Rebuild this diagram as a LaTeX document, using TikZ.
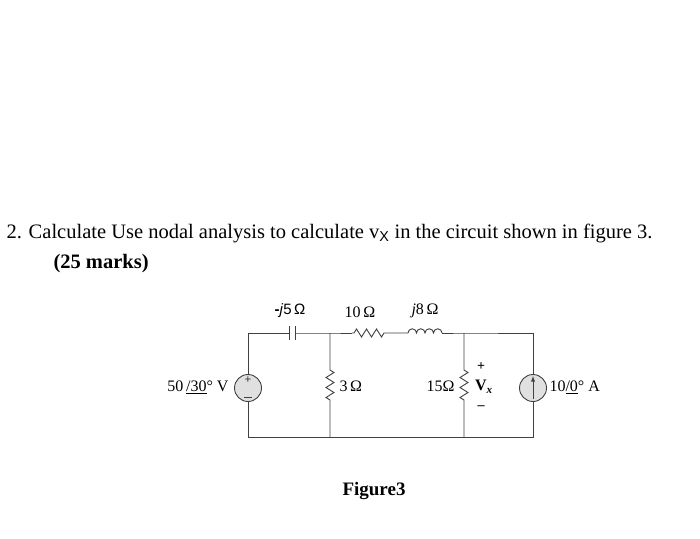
\documentclass[tikz,border=0pt]{standalone}
\usepackage{fontspec}
\setmainfont{Liberation Serif}
\newfontfamily\lsans{Liberation Sans}
\tikzset{wire/.style={line width=0.9pt,black!75},
 lbl/.style={font=\fontsize{16}{18}\selectfont},
 slbl/.style={font=\lsans\fontsize{15}{17}\selectfont},
 src/.style={circle,draw=black!75,fill=black!12,line width=0.9pt,minimum size=27pt,inner sep=0pt}}
\begin{document}
\begin{tikzpicture}[x=1pt,y=-1pt]
\useasboundingbox (0,0) rectangle (700,538);
\node[anchor=west,font=\fontsize{20.5}{24}\selectfont] (title) at (3,233) {2. Calculate Use nodal analysis to calculate v\textsubscript{\lsans X} in the circuit shown in figure 3.};
\node[anchor=west,font=\bfseries\fontsize{20.5}{24}\selectfont] (marks) at (50,264) {(25 marks)};
\node[font=\bfseries\fontsize{19}{22}\selectfont] (fig) at (374,491) {Figure3};
\coordinate (TL) at (248,333); \coordinate (BL) at (248,437);
\coordinate (TA) at (330,333); \coordinate (BA) at (330,437);
\coordinate (TB) at (464,333); \coordinate (BB) at (464,437);
\coordinate (TR) at (533,333); \coordinate (BR) at (533,437);
\node[src] (vs) at (248,388) {};
\node[src] (is) at (533,388) {};
\node[font=\fontsize{12}{12}\selectfont] (vp) at (248,380) {+};
\draw[wire] (244,397) -- (252,397);
\draw[wire,-latex] (533,399) -- (533,376);
\draw[wire] (vs) -- (TL) -- (289,333);
\draw[wire] (295,333) -- (TA) -- (352,333);
\draw[wire] (289,326) -- (289,340) (295,326) -- (295,340);
\draw[wire] (352,333) -- (354,333) -- ++(2.5,-4) -- ++(5,8) -- ++(5,-8) -- ++(5,8) -- ++(5,-8) -- ++(5,8) -- ++(2.5,-4) -- (408,333);
\draw[wire] (408,333) arc(180:360:4.25) arc(180:360:4.25) arc(180:360:4.25) arc(180:360:4.25);
\draw[wire] (442,333) -- (TB) -- (TR) -- (is) -- (BR) -- (BL) -- (vs);
\draw[wire] (TA) -- (330,370) -- ++(4,2.5) -- ++(-8,5) -- ++(8,5) -- ++(-8,5) -- ++(8,5) -- ++(-8,5) -- ++(4,2.5) -- (BA);
\draw[wire] (TB) -- (464,370) -- ++(4,2.5) -- ++(-8,5) -- ++(8,5) -- ++(-8,5) -- ++(8,5) -- ++(-8,5) -- ++(4,2.5) -- (BB);
\node[slbl] (lc) at (290,311) {\textbf{-}\textit{j}5\,Ω};
\node[lbl] (lr) at (360,312) {10\,Ω};
\node[lbl] (ll) at (425,311) {\textit{j}8\,Ω};
\node[lbl,anchor=west] (l3) at (336,386) {3\,Ω};
\node[lbl,anchor=east] (l15) at (458,386) {15Ω};
\node[font=\bfseries\fontsize{16}{18}\selectfont] (vx) at (484,387) {V\textsubscript{\textit{x}}};
\node[font=\bfseries\fontsize{14}{14}\selectfont] (vxp) at (481,367) {+};
\node[font=\bfseries\fontsize{14}{14}\selectfont] (vxm) at (481,408) {--};
\node[lbl,anchor=east] (lv) at (232,387) {50\,\underline{\smash{/}30}° V};
\node[lbl,anchor=west] (li) at (546,387) {10\underline{\smash{/}0}° A};
\end{tikzpicture}
\end{document}
